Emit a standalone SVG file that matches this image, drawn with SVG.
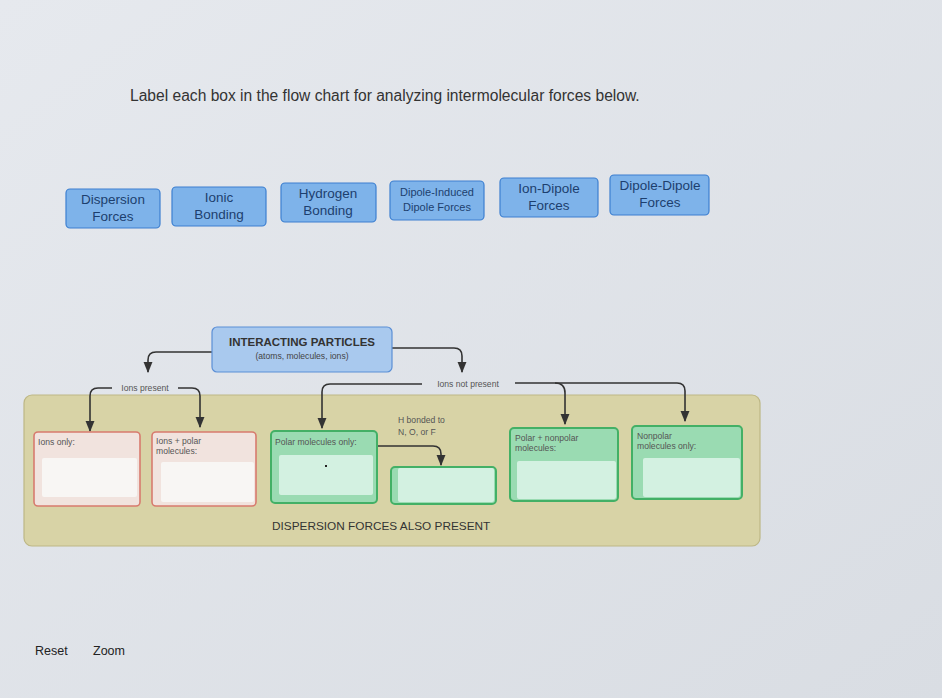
<svg xmlns="http://www.w3.org/2000/svg" width="942" height="698" viewBox="0 0 942 698">
<defs>
<linearGradient id="bg" x1="0" y1="0" x2="1" y2="1"><stop offset="0" stop-color="#e6e9ee"/><stop offset="1" stop-color="#d9dde3"/></linearGradient>
<marker id="a2" viewBox="0 0 10 10" refX="9" refY="5" markerWidth="7" markerHeight="7" orient="auto"><path d="M0,1 L10,5 L0,9 Z" fill="#333"/></marker>
</defs>
<style>
text{font-family:"Liberation Sans",Arial,sans-serif}
.lab rect{fill:#7eb3ea;stroke:#3c7fd0;stroke-width:1.2}
.lab text{font-size:13.5px;fill:#1d3f6e;text-anchor:middle}
.pk{fill:#f1e3de;stroke:#d77b6e;stroke-width:1.6}
.gr{fill:#9adbb2;stroke:#43b066;stroke-width:2}
.wi{fill:#f8f6f4}
.gi{fill:#d3f1e1}
.sm{font-size:8.6px;fill:#555}
.c{fill:none;stroke:#333;stroke-width:1.6}
</style>
<rect width="942" height="698" fill="url(#bg)"/>
<text x="130" y="101" font-size="15.6" fill="#333">Label each box in the flow chart for analyzing intermolecular forces below.</text>
<g id="lab-dispersion" class="lab"><rect x="66" y="189" width="94" height="39" rx="4"/><text x="113" y="204">Dispersion</text><text x="113" y="221">Forces</text></g>
<g id="lab-ionic" class="lab"><rect x="172" y="187" width="94" height="39" rx="4"/><text x="219" y="202">Ionic</text><text x="219" y="219">Bonding</text></g>
<g id="lab-hydrogen" class="lab"><rect x="281" y="183" width="95" height="39" rx="4"/><text x="328" y="198">Hydrogen</text><text x="328" y="215">Bonding</text></g>
<g id="lab-did" class="lab"><rect x="390" y="181" width="94" height="39" rx="4"/><text x="437" y="196" style="font-size:11px">Dipole-Induced</text><text x="437" y="211" style="font-size:11px">Dipole Forces</text></g>
<g id="lab-iondipole" class="lab"><rect x="500" y="178" width="98" height="39" rx="4"/><text x="549" y="193">Ion-Dipole</text><text x="549" y="210">Forces</text></g>
<g id="lab-dd" class="lab"><rect x="610" y="175" width="99" height="40" rx="4"/><text x="660" y="190">Dipole-Dipole</text><text x="660" y="207">Forces</text></g>

<rect x="24" y="395" width="736" height="151" rx="8" fill="#d8d3a6" stroke="#bdb785" stroke-width="1.2"/>

<g id="connectors">
<path class="c" d="M212,352 H156 Q148,352 148,360 V372" marker-end="url(#a2)"/>
<path class="c" d="M392,348 H454 Q462,348 462,356 V372" marker-end="url(#a2)"/>
<path class="c" d="M112,388 H98 Q90,388 90,396 V431" marker-end="url(#a2)"/>
<path class="c" d="M178,388 H192 Q200,388 200,396 V427" marker-end="url(#a2)"/>
<path class="c" d="M422,384 H330 Q322,384 322,392 V428" marker-end="url(#a2)"/>
<path class="c" d="M515,383 H677 Q685,383 685,391 V421" marker-end="url(#a2)"/>
<path class="c" d="M555,383 Q565,383 565,393 V424" marker-end="url(#a2)"/>
<path class="c" d="M377,446 H433 Q441,446 441,454 V465" marker-end="url(#a2)"/>
</g>

<g id="interacting"><rect x="212" y="327" width="180" height="45" rx="5" fill="#a9c9ee" stroke="#5b8fd6" stroke-width="1.2"/><text x="302" y="346" text-anchor="middle" font-size="11.5" font-weight="bold" fill="#333">INTERACTING PARTICLES</text><text x="302" y="359" text-anchor="middle" font-size="8.6" fill="#444">(atoms, molecules, ions)</text></g>
<text x="145" y="391" text-anchor="middle" class="sm">Ions present</text>
<text x="468" y="387" text-anchor="middle" class="sm">Ions not present</text>
<text x="398" y="423" class="sm">H bonded to</text><text x="398" y="435" class="sm">N, O, or F</text>

<g id="ions-only"><rect class="pk" x="34" y="432" width="106" height="74" rx="4"/><rect class="wi" x="42" y="458" width="95" height="39" rx="2"/><text x="38" y="445" class="sm">Ions only:</text></g>
<g id="ions-polar"><rect class="pk" x="152" y="432" width="104" height="74" rx="4"/><rect class="wi" x="161" y="462" width="93" height="40" rx="2"/><text x="156" y="444" class="sm">Ions + polar</text><text x="156" y="454" class="sm">molecules:</text></g>
<g id="polar-only"><rect class="gr" x="271" y="431" width="106" height="72" rx="4"/><rect class="gi" x="279" y="455" width="94" height="40" rx="2"/><text x="275" y="445" class="sm">Polar molecules only:</text><rect x="325" y="465" width="2" height="2" fill="#222"/></g>
<g id="hbond"><rect class="gr" x="391" y="467" width="105" height="37" rx="4"/><rect class="gi" x="398" y="468" width="96" height="34" rx="2"/></g>
<g id="polar-nonpolar"><rect class="gr" x="510" y="428" width="108" height="73" rx="4"/><rect class="gi" x="517" y="461" width="99" height="38" rx="2"/><text x="515" y="441" class="sm">Polar + nonpolar</text><text x="515" y="451" class="sm">molecules:</text></g>
<g id="nonpolar"><rect class="gr" x="632" y="426" width="110" height="73" rx="4"/><rect class="gi" x="643" y="458" width="97" height="39" rx="2"/><text x="637" y="439" class="sm">Nonpolar</text><text x="637" y="449" class="sm">molecules only:</text></g>
<text x="272" y="530" font-size="11.8" fill="#333">DISPERSION FORCES ALSO PRESENT</text>
<text x="35" y="655" font-size="12.5" fill="#222">Reset</text>
<text x="93" y="655" font-size="12.5" fill="#222">Zoom</text>
</svg>
